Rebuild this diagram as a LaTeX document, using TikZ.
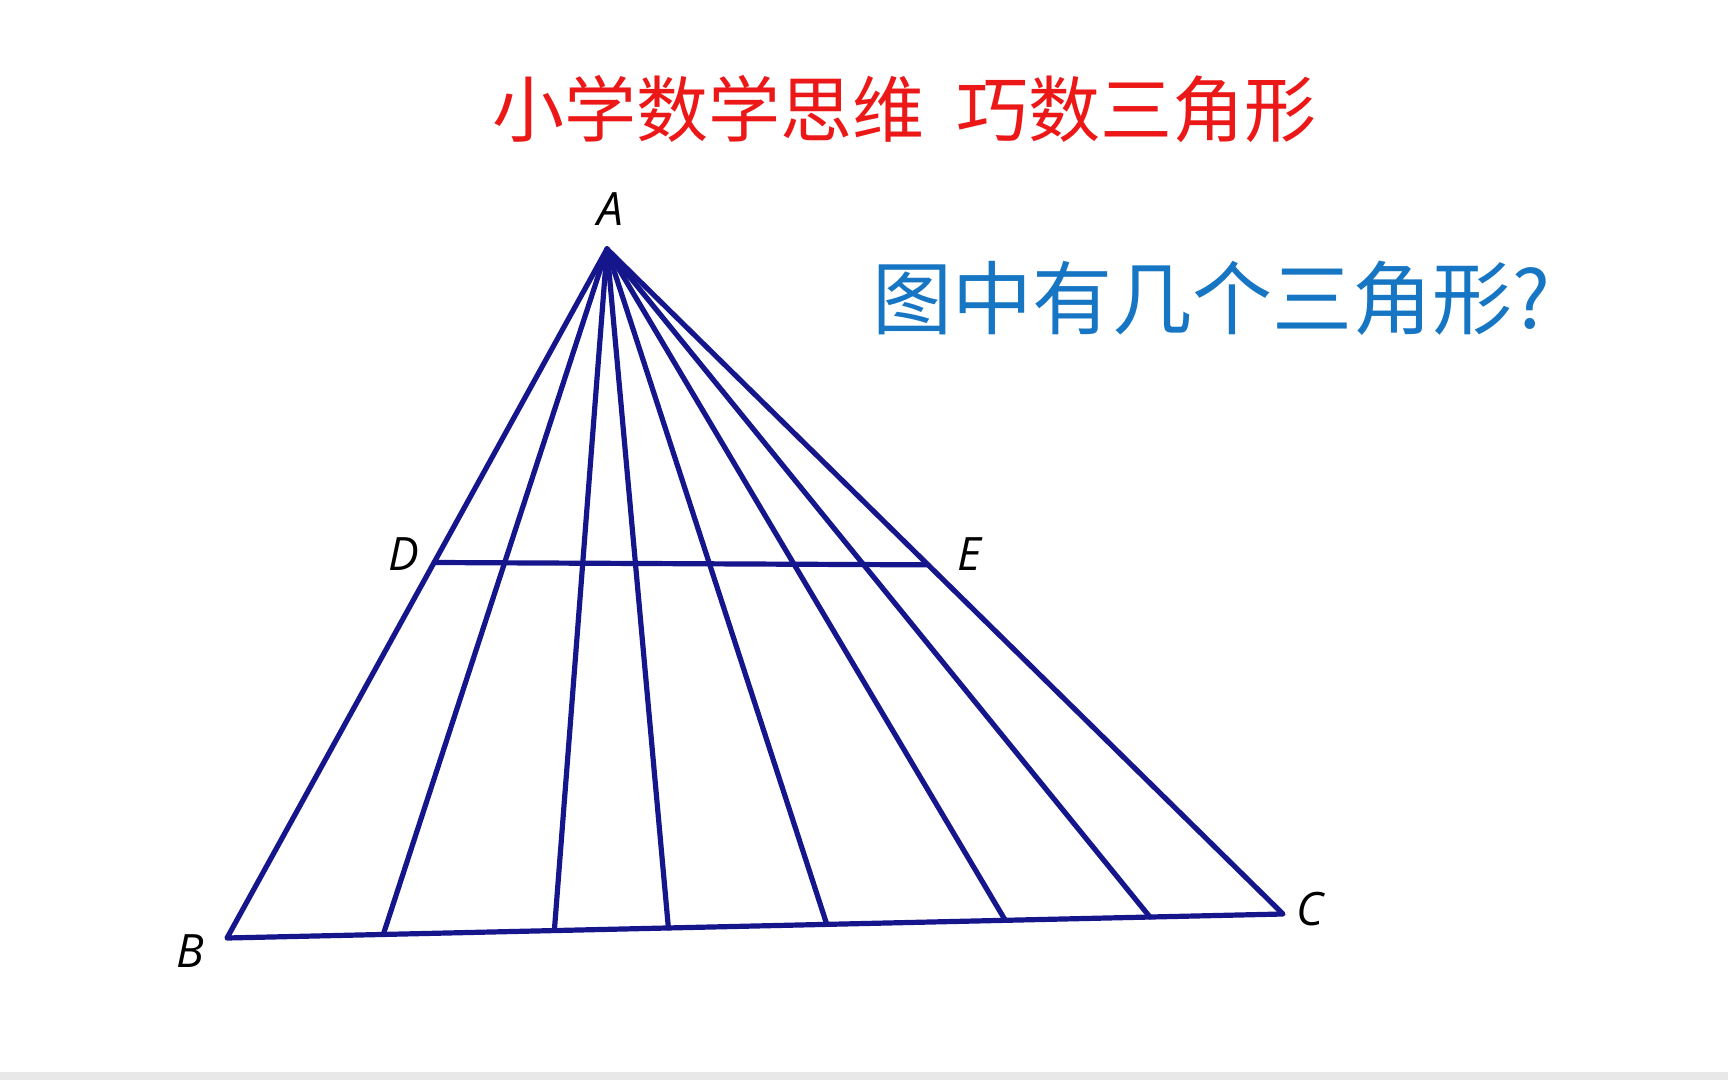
\documentclass[tikz,border=0pt]{standalone}
\usepackage{fontspec}
\newfontfamily\cjk{Noto Sans CJK SC}
\newfontfamily\labfont{Open Sans}
\usetikzlibrary{calc}
\definecolor{navy}{RGB}{22,22,140}
\definecolor{titlered}{RGB}{236,24,24}
\definecolor{qblue}{RGB}{22,118,196}
\definecolor{bandgray}{RGB}{232,232,232}
\begin{document}
\begin{tikzpicture}[x=0.5pt,y=-0.5pt,
  edge/.style={draw=navy,line width=2.6pt,line cap=round,line join=round},
  ptlabel/.style={font=\labfont\itshape\fontsize{23}{27}\selectfont,text=black,inner sep=0pt},
  title/.style={font=\cjk\fontsize{36}{42}\selectfont,text=titlered,inner sep=0pt},
  question/.style={font=\cjk\fontsize{40}{46}\selectfont,text=qblue,inner sep=0pt}]
\useasboundingbox (0,0) rectangle (1728,1080);
\fill[white] (0,0) rectangle (1728,1080);
\fill[bandgray] (0,1072) rectangle (1728,1080);
% vertices
\coordinate (A) at (607,249);
\coordinate (B) at (227,938);
\coordinate (C) at (1283,914);
\coordinate (D) at ($(A)!0.455!(B)$);
\coordinate (E) at ($(A)!0.475!(C)$);
% feet on BC
\coordinate (F1) at ($(B)!0.148!(C)$);
\coordinate (F2) at ($(B)!0.310!(C)$);
\coordinate (F3) at ($(B)!0.418!(C)$);
\coordinate (F4) at ($(B)!0.568!(C)$);
\coordinate (F5) at ($(B)!0.737!(C)$);
\coordinate (F6) at ($(B)!0.874!(C)$);
% lines
\draw[edge] (A) -- (B) -- (C) -- cycle;
\foreach \f in {F1,F2,F3,F4,F5,F6} \draw[edge] (A) -- (\f);
\draw[edge] (D) -- (E);
% labels
\node[ptlabel] (lA) at (610,209) {A};
\node[ptlabel] (lB) at (190,951) {B};
\node[ptlabel] (lC) at (1310,909) {C};
\node[ptlabel] (lD) at (404,554) {D};
\node[ptlabel] (lE) at (969,554) {E};
% texts
\node[title,anchor=west] (t1) at (492,109) {小学数学思维\hspace{0.45em}巧数三角形};
\node[question,anchor=west] (t2) at (872,298) {图中有几个三角形?};
\end{tikzpicture}
\end{document}
